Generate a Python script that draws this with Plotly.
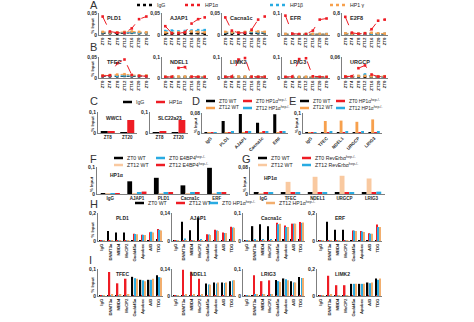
import plotly.graph_objects as go

W, H = 474, 322
FONT = "Liberation Sans"
AX = "#7f7f7f"
TXT = "#262626"

BLACK = "#000000"
RED = "#ee1c24"
BLUE = "#29abe2"
ORANGE = "#f7a04d"
PEACH = "#f9c9a0"
HORANGE = "#f2ae6e"

# ---------------- data ----------------
ZT = ["ZT0", "ZT4", "ZT8", "ZT12", "ZT16", "ZT20", "ZT0"]

A_genes = ["PLD1", "AJAP1", "Cacna1c", "EFR", "E2F8"]
A_max = [0.05, 0.05, 0.05, 0.1, 0.8]
A_lab = ["0,05", "0,05", "0,05", "0,1", "0,8"]
A_IgG = {"PLD1": [0.004, 0.004, 0.003, 0.004, 0.005, 0.004, 0.004],
         "AJAP1": [0.003, 0.003, 0.003, 0.003, 0.004, 0.004, 0.003],
         "Cacna1c": [0.003, 0.003, 0.003, 0.003, 0.004, 0.004, 0.004],
         "EFR": [0.003, 0.002, 0.002, 0.002, 0.003, 0.003, 0.003],
         "E2F8": [0.04, 0.03, 0.03, 0.03, 0.04, 0.03, 0.03]}
A_HP1a = {"PLD1": [0.042, 0.008, 0.005, 0.005, 0.015, 0.036, 0.042],
          "AJAP1": [0.02, 0.004, 0.004, 0.006, 0.026, 0.036, 0.040],
          "Cacna1c": [0.040, 0.010, 0.005, 0.005, 0.012, 0.035, 0.042],
          "EFR": [0.088, 0.006, 0.004, 0.004, 0.02, 0.07, 0.075],
          "E2F8": [0.66, 0.086, 0.04, 0.06, 0.21, 0.52, 0.56]}
A_HP1b = {"PLD1": [0.006, 0.006, 0.005, 0.005, 0.006, 0.005, 0.005],
          "AJAP1": [0.009, 0.010, 0.008, 0.009, 0.010, 0.011, 0.011],
          "Cacna1c": [0.006, 0.006, 0.005, 0.006, 0.007, 0.006, 0.006],
          "EFR": [0.004, 0.004, 0.003, 0.004, 0.004, 0.004, 0.004],
          "E2F8": [0.05, 0.05, 0.04, 0.05, 0.05, 0.04, 0.04]}
A_HP1g = {"PLD1": [0.007, 0.006, 0.006, 0.007, 0.008, 0.007, 0.006],
          "AJAP1": [0.006, 0.005, 0.006, 0.007, 0.008, 0.007, 0.006],
          "Cacna1c": [0.007, 0.006, 0.006, 0.007, 0.009, 0.008, 0.007],
          "EFR": [0.005, 0.004, 0.004, 0.005, 0.005, 0.005, 0.004],
          "E2F8": [0.06, 0.05, 0.05, 0.07, 0.08, 0.06, 0.05]}

B_genes = ["TFEC", "NDEL1", "LIMK2", "LRIG3", "URGCP"]
B_max = [0.05, 0.1, 0.1, 0.1, 0.06]
B_lab = ["0,05", "0,1", "0,1", "0,1", "0,06"]
B_IgG = {"TFEC": [0.004, 0.004, 0.004, 0.005, 0.004, 0.004, 0.004],
         "NDEL1": [0.004, 0.004, 0.004, 0.004, 0.004, 0.004, 0.004],
         "LIMK2": [0.004, 0.004, 0.004, 0.004, 0.004, 0.004, 0.004],
         "LRIG3": [0.003, 0.003, 0.003, 0.003, 0.003, 0.003, 0.003],
         "URGCP": [0.003, 0.003, 0.003, 0.003, 0.003, 0.003, 0.003]}
B_HP1a = {"TFEC": [0.005, 0.006, 0.035, 0.044, 0.007, 0.005, 0.004],
          "NDEL1": [0.005, 0.005, 0.048, 0.052, 0.006, 0.005, 0.005],
          "LIMK2": [0.005, 0.006, 0.088, 0.095, 0.006, 0.005, 0.005],
          "LRIG3": [0.005, 0.006, 0.090, 0.094, 0.008, 0.005, 0.005],
          "URGCP": [0.004, 0.005, 0.028, 0.036, 0.010, 0.004, 0.004]}
B_HP1b = {"TFEC": [0.005, 0.005, 0.005, 0.006, 0.005, 0.005, 0.005],
          "NDEL1": [0.004, 0.004, 0.004, 0.005, 0.004, 0.004, 0.004],
          "LIMK2": [0.006, 0.005, 0.005, 0.006, 0.005, 0.005, 0.005],
          "LRIG3": [0.004, 0.004, 0.004, 0.004, 0.004, 0.004, 0.004],
          "URGCP": [0.004, 0.004, 0.005, 0.010, 0.005, 0.004, 0.004]}
B_HP1g = {"TFEC": [0.006, 0.007, 0.008, 0.009, 0.007, 0.006, 0.006],
          "NDEL1": [0.006, 0.006, 0.007, 0.007, 0.006, 0.006, 0.006],
          "LIMK2": [0.006, 0.006, 0.007, 0.007, 0.006, 0.006, 0.006],
          "LRIG3": [0.005, 0.005, 0.006, 0.006, 0.005, 0.005, 0.005],
          "URGCP": [0.005, 0.005, 0.006, 0.006, 0.005, 0.005, 0.005]}

C_genes = ["WWC1", "SLC22a23"]
C_cats = ["ZT8", "ZT20"]
C_IgG = {"WWC1": [0.006, 0.004], "SLC22a23": [0.004, 0.004]}
C_HP1a = {"WWC1": [0.005, 0.062], "SLC22a23": [0.006, 0.062]}

D_cats = ["IgG", "PLD1", "AJAP1", "Cacna1c", "ERF"]
D_zt0_wt = [0.003, 0.048, 0.076, 0.041, 0.075]
D_zt12_wt = [0.002, 0.002, 0.003, 0.003, 0.003]
D_zt0_ko = [0.002, 0.004, 0.006, 0.005, 0.006]
D_zt12_ko = [0.002, 0.005, 0.006, 0.005, 0.005]

E_cats = ["IgG", "TFEC", "NDEL1", "URGCP", "LRIG3"]
E_zt0_wt = [0.005, 0.004, 0.003, 0.003, 0.003]
E_zt12_wt = [0.002, 0.06, 0.062, 0.056, 0.068]
E_zt0_ko = [0.003, 0.003, 0.003, 0.003, 0.003]
E_zt12_ko = [0.003, 0.007, 0.007, 0.008, 0.007]

F_cats = ["IgG", "AJAP1", "PLD1", "Cacna1c", "ERF"]
F_zt0_wt = [0.003, 0.047, 0.06, 0.032, 0.097]
F_zt12_wt = [0.002, 0.002, 0.002, 0.002, 0.002]
F_zt0_ko = [0.003, 0.006, 0.006, 0.006, 0.006]
F_zt12_ko = [0.003, 0.009, 0.007, 0.007, 0.007]

G_cats = ["IgG", "TFEC", "NDEL1", "URGCP", "LRIG3"]
G_zt0_wt = [0.004, 0.003, 0.003, 0.003, 0.003]
G_zt12_wt = [0.002, 0.036, 0.051, 0.054, 0.046]
G_zt0_ko = [0.003, 0.004, 0.004, 0.004, 0.006]
G_zt12_ko = [0.003, 0.006, 0.006, 0.006, 0.007]

HI_cats = ["IgG", "DNMT3a", "MBD4", "MeCP2", "Gadd45a", "Apobec", "AID", "TDG"]
H_genes = ["PLD1", "AJAP1", "Cacna1c", "ERF"]
H_max = [0.2, 0.14, 0.1, 0.2]
H_lab = ["0,2", "0,14", "0,1", "0,2"]
H_zt0_wt = {"PLD1": [0.003, 0.072, 0.06, 0.06, 0.006, 0.005, 0.006, 0.008],
            "AJAP1": [0.003, 0.096, 0.054, 0.118, 0.005, 0.005, 0.005, 0.006],
            "Cacna1c": [0.003, 0.053, 0.06, 0.053, 0.005, 0.004, 0.005, 0.005],
            "ERF": [0.004, 0.137, 0.08, 0.08, 0.005, 0.005, 0.004, 0.005]}
H_zt12_wt = {"PLD1": [0.002, 0.004, 0.003, 0.003, 0.052, 0.045, 0.062, 0.085],
             "AJAP1": [0.002, 0.004, 0.003, 0.004, 0.034, 0.056, 0.042, 0.071],
             "Cacna1c": [0.002, 0.003, 0.003, 0.003, 0.065, 0.055, 0.062, 0.068],
             "ERF": [0.002, 0.004, 0.003, 0.003, 0.075, 0.072, 0.055, 0.117]}
H_zt0_ko = {"PLD1": [0.002, 0.006, 0.004, 0.004, 0.05, 0.044, 0.066, 0.08],
            "AJAP1": [0.002, 0.012, 0.004, 0.006, 0.032, 0.052, 0.04, 0.068],
            "Cacna1c": [0.002, 0.004, 0.004, 0.004, 0.06, 0.05, 0.062, 0.064],
            "ERF": [0.002, 0.006, 0.004, 0.004, 0.074, 0.068, 0.052, 0.1]}
H_zt12_ko = {"PLD1": [0.002, 0.003, 0.003, 0.003, 0.048, 0.042, 0.06, 0.075],
             "AJAP1": [0.002, 0.004, 0.003, 0.004, 0.03, 0.05, 0.04, 0.066],
             "Cacna1c": [0.002, 0.003, 0.003, 0.003, 0.062, 0.05, 0.062, 0.066],
             "ERF": [0.002, 0.003, 0.003, 0.003, 0.072, 0.065, 0.052, 0.1]}

I_genes = ["TFEC", "NDEL1", "LRIG3", "LIMK2"]
I_max = [0.1, 0.14, 0.1, 0.2]
I_lab = ["0,1", "0,14", "0,1", "0,2"]
I_zt0_wt = {"TFEC": [0.003, 0.002, 0.002, 0.002, 0.071, 0.06, 0.06, 0.077],
            "NDEL1": [0.003, 0.002, 0.002, 0.002, 0.065, 0.07, 0.07, 0.077],
            "LRIG3": [0.003, 0.002, 0.002, 0.002, 0.059, 0.065, 0.055, 0.07],
            "LIMK2": [0.004, 0.002, 0.002, 0.002, 0.09, 0.09, 0.1, 0.13]}
I_zt12_wt = {"TFEC": [0.002, 0.089, 0.047, 0.064, 0.003, 0.003, 0.003, 0.003],
             "NDEL1": [0.002, 0.136, 0.126, 0.09, 0.003, 0.003, 0.003, 0.003],
             "LRIG3": [0.002, 0.077, 0.055, 0.058, 0.003, 0.003, 0.003, 0.003],
             "LIMK2": [0.002, 0.15, 0.08, 0.08, 0.004, 0.004, 0.004, 0.004]}
I_zt0_ko = {"TFEC": [0.002, 0.003, 0.003, 0.003, 0.066, 0.058, 0.06, 0.07],
            "NDEL1": [0.002, 0.004, 0.004, 0.004, 0.06, 0.065, 0.068, 0.08],
            "LRIG3": [0.002, 0.004, 0.004, 0.004, 0.055, 0.062, 0.05, 0.067],
            "LIMK2": [0.002, 0.006, 0.005, 0.005, 0.09, 0.09, 0.095, 0.12]}
I_zt12_ko = {"TFEC": [0.002, 0.006, 0.005, 0.005, 0.064, 0.055, 0.064, 0.068],
             "NDEL1": [0.002, 0.008, 0.007, 0.006, 0.058, 0.07, 0.07, 0.082],
             "LRIG3": [0.002, 0.005, 0.005, 0.005, 0.052, 0.058, 0.05, 0.067],
             "LIMK2": [0.002, 0.008, 0.006, 0.006, 0.09, 0.09, 0.1, 0.13]}


# ---------------- helpers ----------------
def fx(x):
    return x / W


def fy(y):
    return 1 - y / H


fig = go.Figure()
layout = dict(width=W, height=H, autosize=False, margin=dict(l=0, r=0, t=0, b=0),
              paper_bgcolor="white", plot_bgcolor="white", showlegend=False,
              barmode="group", bargap=0.28, bargroupgap=0.0,
              font=dict(family=FONT, color=TXT))
annotations = []
shapes = []
counter = [0]


def new_axes(left, right, top, bottom, ymax, ylab, tickangle=-90, tfsize=4.5,
             xrange=None, tickvals=None, ticktext=None):
    counter[0] += 1
    i = counter[0]
    xa = "xaxis" if i == 1 else "xaxis%d" % i
    ya = "yaxis" if i == 1 else "yaxis%d" % i
    xr = "x" if i == 1 else "x%d" % i
    yr = "y" if i == 1 else "y%d" % i
    xd = dict(domain=[fx(left), fx(right)], anchor=yr, showline=True, linecolor=AX,
              linewidth=1, showgrid=False, zeroline=False, ticks="",
              tickangle=tickangle, automargin=False,
              tickfont=dict(size=tfsize, family=FONT, weight="bold", color=TXT))
    if xrange is not None:
        xd["range"] = xrange
    if tickvals is not None:
        xd["tickvals"] = tickvals
        xd["ticktext"] = ticktext
    layout[xa] = xd
    layout[ya] = dict(domain=[fy(bottom), fy(top)], anchor=xr, range=[0, ymax],
                      tickvals=[0, ymax], ticktext=["0", ylab], showline=True,
                      linecolor=AX, linewidth=1, showgrid=False, zeroline=False,
                      ticks="", automargin=False,
                      tickfont=dict(size=5, family=FONT, weight="bold", color=TXT))
    return xr, yr


def title(x, y, text, size=5.5):
    annotations.append(dict(x=fx(x), y=fy(y), xref="paper", yref="paper", text=text,
                            showarrow=False, xanchor="left", yanchor="middle",
                            font=dict(size=size, family=FONT, weight="bold", color=TXT)))


def letter(x, y, text):
    annotations.append(dict(x=fx(x), y=fy(y), xref="paper", yref="paper", text=text,
                            showarrow=False, xanchor="left", yanchor="middle",
                            font=dict(size=11, family=FONT, color="#333333")))


def ylabel(x, y):
    annotations.append(dict(x=fx(x), y=fy(y), xref="paper", yref="paper",
                            text="% Input", textangle=-90, showarrow=False,
                            xanchor="center", yanchor="middle",
                            font=dict(size=4.2, family=FONT, weight="bold", color=TXT)))


def legend_item(x, y, color, text, width=9, dash="solid", lw=2.5, size=5.2):
    shapes.append(dict(type="line", xref="paper", yref="paper", x0=fx(x), x1=fx(x + width),
                       y0=fy(y), y1=fy(y), line=dict(color=color, width=lw, dash=dash)))
    annotations.append(dict(x=fx(x + width + 1.5), y=fy(y), xref="paper", yref="paper",
                            text=text, showarrow=False, xanchor="left", yanchor="middle",
                            font=dict(size=size, family=FONT, color=TXT)))


def line_panel(left, right, top, bottom, ymax, ylab, gene, series):
    xr, yr = new_axes(left, right, top, bottom, ymax, ylab, tickangle=-90, tfsize=4.3,
                      xrange=[-0.5, 6.5], tickvals=list(range(len(ZT))), ticktext=ZT)
    for vals, color, dash in series:
        fig.add_trace(go.Scatter(x=list(range(len(ZT))), y=vals, mode="lines+markers",
                                 line=dict(color=color, width=1, dash=dash),
                                 marker=dict(color=color, size=2.6, symbol="square"),
                                 xaxis=xr, yaxis=yr, cliponaxis=False))
    title(left + 6, top + 5, gene)


def bar_panel(left, right, top, bottom, ymax, ylab, cats, series, tickangle, tfsize=4.5):
    xr, yr = new_axes(left, right, top, bottom, ymax, ylab, tickangle=tickangle, tfsize=tfsize)
    for vals, color in series:
        fig.add_trace(go.Bar(x=cats, y=vals, marker=dict(color=color, line=dict(width=0)),
                             xaxis=xr, yaxis=yr))
    return xr, yr


# ---------------- row A ----------------
cols5 = [(99, 150), (162, 208), (222, 268), (282, 330), (342, 388)]
for k, g in enumerate(A_genes):
    l, r = cols5[k]
    line_panel(l, r, 13, 35, A_max[k], A_lab[k], g,
               [(A_IgG[g], BLACK, "dot"), (A_HP1b[g], BLUE, "dot"),
                (A_HP1g[g], ORANGE, "dot"), (A_HP1a[g], RED, "dash")])
letter(88, 4.5, "A")
ylabel(91.5, 26)
legend_item(137, 5, BLACK, "IgG", width=16, dash="dot", lw=2.5)
legend_item(185, 5, RED, "HP1α", width=16, dash="dot", lw=2.5)
legend_item(270, 5, BLUE, "HP1β", width=16, dash="dot", lw=2.5)
legend_item(330, 5, ORANGE, "HP1 γ", width=16, dash="dot", lw=2.5)

# ---------------- row B ----------------
for k, g in enumerate(B_genes):
    l, r = cols5[k]
    line_panel(l, r, 57, 78, B_max[k], B_lab[k], g,
               [(B_IgG[g], BLACK, "dot"), (B_HP1b[g], BLUE, "dot"),
                (B_HP1g[g], ORANGE, "dot"), (B_HP1a[g], RED, "dash")])
letter(88, 47.5, "B")
ylabel(91.5, 69)

# ---------------- row C ----------------
cpos = [(98, 137), (150, 188)]
for k, g in enumerate(C_genes):
    l, r = cpos[k]
    bar_panel(l, r, 112, 133, 0.1, "0,1", C_cats,
              [(C_IgG[g], BLACK), (C_HP1a[g], RED)], tickangle=0, tfsize=4.5)
    title(l + 6, 118, g, size=5)
letter(88, 101, "C")
ylabel(91.5, 124)
legend_item(123, 102, BLACK, "IgG")
legend_item(156, 102, RED, "HP1α")

# ---------------- D ----------------
bar_panel(202, 288, 113, 133, 0.08, "0,08", D_cats,
          [(D_zt0_wt, BLACK), (D_zt12_wt, ORANGE), (D_zt0_ko, RED), (D_zt12_ko, BLUE)],
          tickangle=-45)
letter(190, 101, "D")
ylabel(195, 125)
legend_item(206, 101, BLACK, "ZT0 WT", size=4.8)
legend_item(243, 101, RED, "ZT0 HP1α<sup>hep-/-</sup>", size=4.8)
legend_item(206, 108, ORANGE, "ZT12 WT", size=4.8)
legend_item(243, 108, BLUE, "ZT12 HP1α<sup>hep-/-</sup>", size=4.8)

# ---------------- E ----------------
bar_panel(303, 382, 113, 133, 0.1, "0,1", E_cats,
          [(E_zt0_wt, BLACK), (E_zt12_wt, ORANGE), (E_zt0_ko, RED), (E_zt12_ko, BLUE)],
          tickangle=-45)
letter(287, 101, "E")
ylabel(296, 125)
legend_item(300, 101, BLACK, "ZT0 WT", size=4.8)
legend_item(336, 101, RED, "ZT0 HP1α<sup>hep-/-</sup>", size=4.8)
legend_item(300, 108, ORANGE, "ZT12 WT", size=4.8)
legend_item(336, 108, BLUE, "ZT12 HP1α<sup>hep-/-</sup>", size=4.8)

# ---------------- F ----------------
bar_panel(97, 230, 167, 194, 0.1, "0,1", F_cats,
          [(F_zt0_wt, BLACK), (F_zt12_wt, PEACH), (F_zt0_ko, BLUE), (F_zt12_ko, RED)],
          tickangle=0, tfsize=4.5)
title(108, 175, "HP1α", size=5)
letter(88, 159, "F")
ylabel(91, 184)
legend_item(114, 158, BLACK, "ZT0 WT")
legend_item(156, 158, BLUE, "ZT0 E4BP4<sup>hep-/-</sup>")
legend_item(114, 165, PEACH, "ZT12 WT")
legend_item(156, 165, RED, "ZT12 E4BP4<sup>hep-/-</sup>")

# ---------------- G ----------------
bar_panel(250, 385, 167, 194, 0.08, "0,08", G_cats,
          [(G_zt0_wt, BLACK), (G_zt12_wt, PEACH), (G_zt0_ko, RED), (G_zt12_ko, BLUE)],
          tickangle=0, tfsize=4.5)
title(262, 178, "HP1α", size=5)
letter(240, 159, "G")
ylabel(244, 184)
legend_item(258, 158, BLACK, "ZT0 WT")
legend_item(302, 158, RED, "ZT0 RevErbα<sup>hep-/-</sup>")
legend_item(258, 165, PEACH, "ZT12 WT")
legend_item(302, 165, BLUE, "ZT12 RevErbα<sup>hep-/-</sup>")

# ---------------- H ----------------
cols4 = [(98, 163), (172, 236), (243, 305), (317, 382)]
for k, g in enumerate(H_genes):
    l, r = cols4[k]
    bar_panel(l, r, 213, 241, H_max[k], H_lab[k], HI_cats,
              [(H_zt0_wt[g], BLACK), (H_zt12_wt[g], RED), (H_zt0_ko[g], BLUE),
               (H_zt12_ko[g], HORANGE)], tickangle=-90, tfsize=4.2)
    title(l + 16, 218, g, size=5)
letter(88, 204.5, "H")
ylabel(91.5, 230)
legend_item(135, 203, BLACK, "ZT0 WT")
legend_item(176, 203, RED, "ZT12 WT")
legend_item(209, 203, BLUE, "ZT0 HP1α<sup>hep-/-</sup>")
legend_item(266, 203, HORANGE, "ZT12 HP1α<sup>hep-/-</sup>")

# ---------------- I ----------------
for k, g in enumerate(I_genes):
    l, r = cols4[k]
    bar_panel(l, r, 269, 296, I_max[k], I_lab[k], HI_cats,
              [(I_zt0_wt[g], BLACK), (I_zt12_wt[g], RED), (I_zt0_ko[g], BLUE),
               (I_zt12_ko[g], HORANGE)], tickangle=-90, tfsize=4.2)
    title(l + 16, 274, g, size=5)
letter(87, 260, "I")
ylabel(91.5, 285)

layout["annotations"] = annotations
layout["shapes"] = shapes
fig.update_layout(**layout)
fig.write_html("out.html")
